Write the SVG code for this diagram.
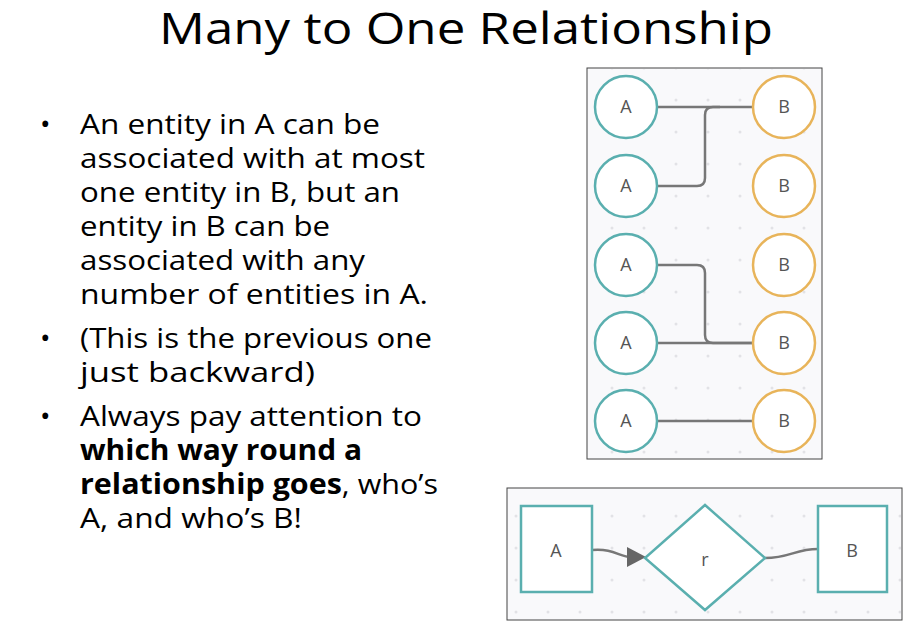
<svg xmlns="http://www.w3.org/2000/svg" width="924" height="626" viewBox="0 0 924 626">
<style>
.t{font-family:"Open Sans","Liberation Sans",Arial,sans-serif;fill:#000}
.b{font-size:28px}
.ca{fill:#fff;stroke:#5aafaf;stroke-width:2.5}
.cb{fill:#fff;stroke:#e8b45a;stroke-width:2.5}
.lbl{font-family:"Open Sans","Liberation Sans",Arial,sans-serif;font-size:18px;fill:#555;text-anchor:middle}
.ln{fill:none;stroke:#777;stroke-width:2.5}
.panel{fill:#f9f9fb;stroke:#444;stroke-width:1}
</style>
<defs>
<pattern id="dots" x="0" y="0" width="32" height="32" patternUnits="userSpaceOnUse"><circle cx="4" cy="4" r="1.5" fill="#e2e2e6"/></pattern>
</defs>
<rect width="924" height="626" fill="#fff"/>
<text class="t" x="466" y="44" font-size="44" text-anchor="middle" textLength="614" lengthAdjust="spacingAndGlyphs">Many to One Relationship</text>
<g id="bullets" class="t b">
<text x="40" y="134">•</text>
<text x="80" y="134" textLength="300" lengthAdjust="spacingAndGlyphs">An entity in A can be</text>
<text x="80" y="168" textLength="345" lengthAdjust="spacingAndGlyphs">associated with at most</text>
<text x="80" y="202" textLength="320" lengthAdjust="spacingAndGlyphs">one entity in B, but an</text>
<text x="80" y="236" textLength="250" lengthAdjust="spacingAndGlyphs">entity in B can be</text>
<text x="80" y="270" textLength="285" lengthAdjust="spacingAndGlyphs">associated with any</text>
<text x="80" y="304" textLength="348" lengthAdjust="spacingAndGlyphs">number of entities in A.</text>
<text x="40" y="348">•</text>
<text x="80" y="348" textLength="352" lengthAdjust="spacingAndGlyphs">(This is the previous one</text>
<text x="80" y="382" textLength="235" lengthAdjust="spacingAndGlyphs">just backward)</text>
<text x="40" y="426">•</text>
<text x="80" y="426" textLength="342" lengthAdjust="spacingAndGlyphs">Always pay attention to</text>
<text x="80" y="460" font-weight="bold" textLength="282" lengthAdjust="spacingAndGlyphs">which way round a</text>
<text x="80" y="494" textLength="358" lengthAdjust="spacingAndGlyphs"><tspan font-weight="bold">relationship goes</tspan>, who’s</text>
<text x="80" y="528" textLength="222" lengthAdjust="spacingAndGlyphs">A, and who’s B!</text>
</g>
<rect class="panel" x="587" y="68" width="235" height="391"/>
<rect x="588" y="69" width="233" height="389" fill="url(#dots)"/>
<g id="connectors">
<path class="ln" d="M657,107 H753"/>
<path class="ln" d="M657,186 H697 Q705,186 705,178 V115 Q705,107 713,107 H720"/>
<path class="ln" d="M657,265 H697 Q705,265 705,273 V335 Q705,343 713,343 H753"/>
<path class="ln" d="M657,343 H753"/>
<path class="ln" d="M657,421 H753"/>
</g>
<g id="a1"><circle class="ca" cx="626" cy="107" r="31"/><text class="lbl" x="626" y="113">A</text></g>
<g id="a2"><circle class="ca" cx="626" cy="186" r="31"/><text class="lbl" x="626" y="192">A</text></g>
<g id="a3"><circle class="ca" cx="626" cy="265" r="31"/><text class="lbl" x="626" y="271">A</text></g>
<g id="a4"><circle class="ca" cx="626" cy="343" r="31"/><text class="lbl" x="626" y="349">A</text></g>
<g id="a5"><circle class="ca" cx="626" cy="421" r="31"/><text class="lbl" x="626" y="427">A</text></g>
<g id="b1"><circle class="cb" cx="784" cy="107" r="31"/><text class="lbl" x="784" y="113">B</text></g>
<g id="b2"><circle class="cb" cx="784" cy="186" r="31"/><text class="lbl" x="784" y="192">B</text></g>
<g id="b3"><circle class="cb" cx="784" cy="265" r="31"/><text class="lbl" x="784" y="271">B</text></g>
<g id="b4"><circle class="cb" cx="784" cy="343" r="31"/><text class="lbl" x="784" y="349">B</text></g>
<g id="b5"><circle class="cb" cx="784" cy="421" r="31"/><text class="lbl" x="784" y="427">B</text></g>
<rect class="panel" x="507" y="488" width="395" height="132"/>
<rect x="508" y="489" width="393" height="130" fill="url(#dots)"/>
<g id="er-connectors">
<path class="ln" d="M592,550 C615,548 620,558 633,557" />
<path d="M627,547 L646,557 L627,567 Z" fill="#666"/>
<path class="ln" d="M765,558 C790,558 795,549 818,549"/>
</g>
<g id="ea"><rect class="ca" x="521" y="506" width="71" height="86"/><text class="lbl" x="556" y="557" font-size="19">A</text></g>
<g id="er"><path class="ca" d="M705,505 L765,558 L705,610 L645,558 Z"/><text class="lbl" x="705" y="566" font-size="19">r</text></g>
<g id="eb"><rect class="ca" x="818" y="506" width="69" height="86"/><text class="lbl" x="852" y="557" font-size="19">B</text></g>
</svg>
